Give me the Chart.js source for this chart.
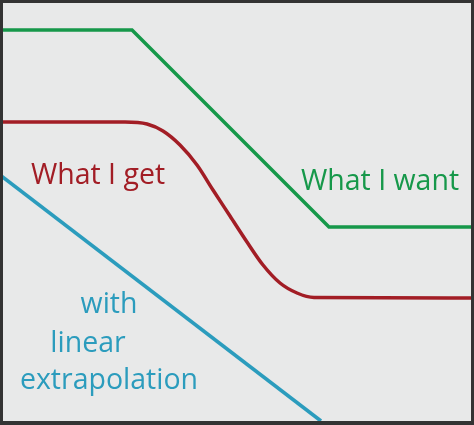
<!DOCTYPE html>
<html>
<head>
<meta charset="utf-8">
<script src="https://cdn.jsdelivr.net/npm/chart.js@4/dist/chart.umd.min.js"></script>
<style>
  html, body { margin: 0; padding: 0; background: #e8e9e9; }
  #wrap { width: 474px; height: 425px; }
</style>
</head>
<body>
<div id="wrap"><canvas id="chart"></canvas></div>
<script>
// x/y in drawing units, y grows downward (axis reversed)
const wantX = [0, 132, 329, 474];
const wantY = [30, 30, 227, 227];

const getX = [0, 125, 147, 163, 180, 197, 213, 230, 247, 263, 280, 297, 314, 474];
const getY = [122, 122, 124, 131, 145, 165, 190, 216, 242, 265, 283, 293, 297.5, 298];

const linX = [0, 321];
const linY = [175, 421];

const labels = [
    { lines: ['What I get'], x: [98], y: [184], color: '#a21d25' },
    { lines: ['What I want'], x: [380], y: [190], color: '#16984a' },
    { lines: ['with', 'linear', 'extrapolation'], x: [109, 88, 109], y: [313, 352, 389], color: '#2b9cbd' }
];

const toPoints = (xs, ys) => xs.map((x, i) => ({ x: x, y: ys[i] }));

const frame = {
    id: 'frame',
    beforeDraw(chart) {
        const ctx = chart.ctx;
        ctx.save();
        ctx.fillStyle = '#e8e9e9';
        ctx.fillRect(0, 0, chart.width, chart.height);
        ctx.restore();
    },
    afterDraw(chart) {
        const ctx = chart.ctx;
        const { x, y } = chart.scales;
        ctx.save();
        ctx.font = '28.5px "Open Sans", Lato, sans-serif';
        ctx.textAlign = 'center';
        ctx.textBaseline = 'alphabetic';
        labels.forEach(l => {
            ctx.fillStyle = l.color;
            l.lines.forEach((t, i) => ctx.fillText(t, x.getPixelForValue(l.x[i]), y.getPixelForValue(l.y[i])));
        });
        // dark border
        ctx.fillStyle = '#333333';
        ctx.fillRect(0, 0, chart.width, 3);
        ctx.fillRect(0, 0, 3, chart.height);
        ctx.fillRect(chart.width - 3, 0, 3, chart.height);
        ctx.fillRect(0, chart.height - 4, chart.width, 4);
        ctx.restore();
    }
};

new Chart(document.getElementById('chart'), {
    type: 'scatter',
    data: {
        datasets: [
            {
                label: 'What I want',
                data: toPoints(wantX, wantY),
                showLine: true,
                borderColor: '#16984a',
                borderWidth: 3.5,
                pointRadius: 0,
                tension: 0
            },
            {
                label: 'What I get',
                data: toPoints(getX, getY),
                showLine: true,
                borderColor: '#a21d25',
                borderWidth: 3.5,
                pointRadius: 0,
                cubicInterpolationMode: 'monotone'
            },
            {
                label: 'with linear extrapolation',
                data: toPoints(linX, linY),
                showLine: true,
                borderColor: '#2b9cbd',
                borderWidth: 3.5,
                pointRadius: 0,
                tension: 0
            }
        ]
    },
    options: {
        responsive: true,
        maintainAspectRatio: false,
        animation: false,
        layout: { padding: 0 },
        plugins: { legend: { display: false }, tooltip: { enabled: false } },
        scales: {
            x: { type: 'linear', min: 0, max: 474, display: false },
            y: { type: 'linear', min: 0, max: 425, reverse: true, display: false }
        }
    },
    plugins: [frame]
});
</script>
</body>
</html>
